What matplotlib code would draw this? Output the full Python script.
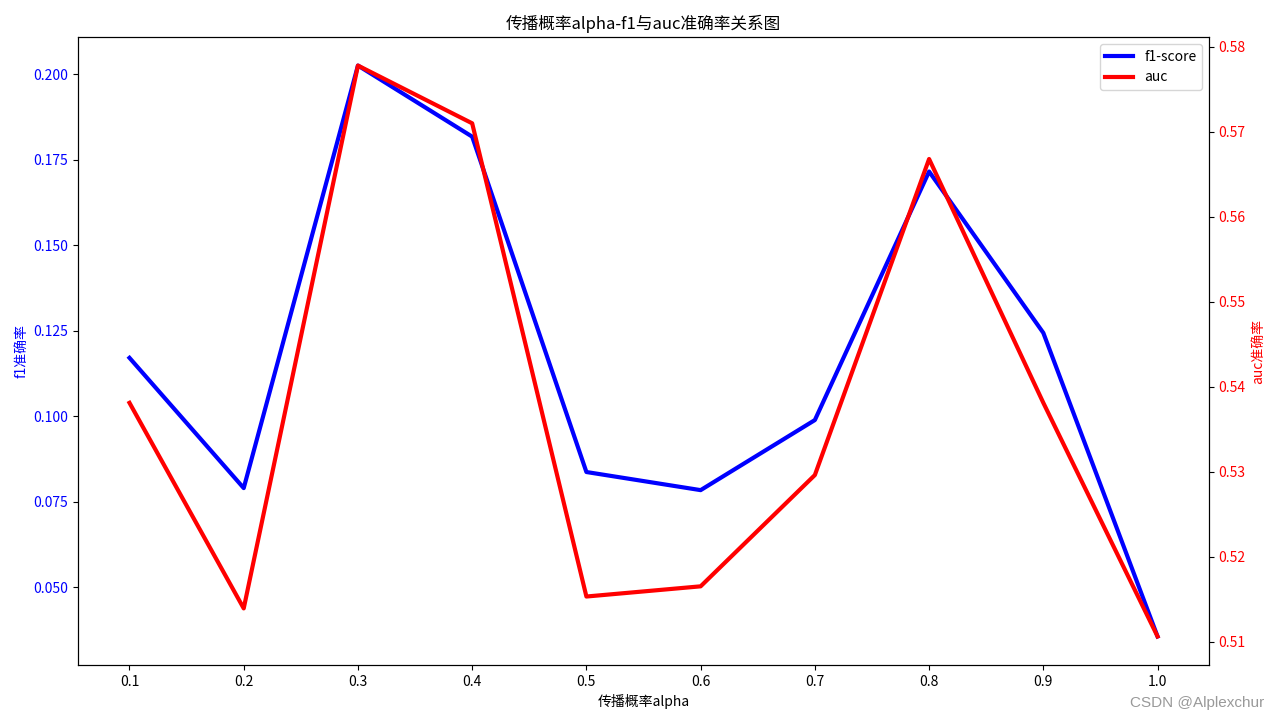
import matplotlib.pyplot as plt

plt.rcParams['font.family'] = ['Noto Sans CJK SC', 'DejaVu Sans']
plt.rcParams['axes.unicode_minus'] = False

# 数据
alpha = [0.1, 0.2, 0.3, 0.4, 0.5, 0.6, 0.7, 0.8, 0.9, 1.0]
f1 = [0.1171, 0.0790, 0.2026, 0.1818, 0.0837, 0.0784, 0.0989, 0.1716, 0.1244, 0.0356]
auc = [0.5381, 0.5139, 0.5778, 0.5710, 0.5153, 0.5165, 0.5296, 0.5668, 0.5381, 0.5106]
xticks = [0.1, 0.2, 0.3, 0.4, 0.5, 0.6, 0.7, 0.8, 0.9, 1.0]

fig, ax1 = plt.subplots(figsize=(12.8, 7.2), dpi=100)
fig.subplots_adjust(left=0.061, right=0.9445, top=0.9486, bottom=0.0764)

l1, = ax1.plot(alpha, f1, color='blue', linewidth=3, label='f1-score')
ax1.set_xlabel('传播概率alpha')
ax1.set_ylabel('f1准确率', color='blue')
ax1.tick_params(axis='y', labelcolor='blue')
ax1.set_xticks(xticks)

ax2 = ax1.twinx()
l2, = ax2.plot(alpha, auc, color='red', linewidth=3, label='auc')
ax2.set_ylabel('auc准确率', color='red')
ax2.tick_params(axis='y', labelcolor='red')

ax1.legend(handles=[l1, l2], loc='upper right')
plt.title('传播概率alpha-f1与auc准确率关系图')

fig.text(0.988, 0.014, 'CSDN @Alplexchur', ha='right', va='bottom',
         color='#999999', fontsize=11, family=['Liberation Sans', 'DejaVu Sans'])

plt.savefig('out.png', dpi=100)
